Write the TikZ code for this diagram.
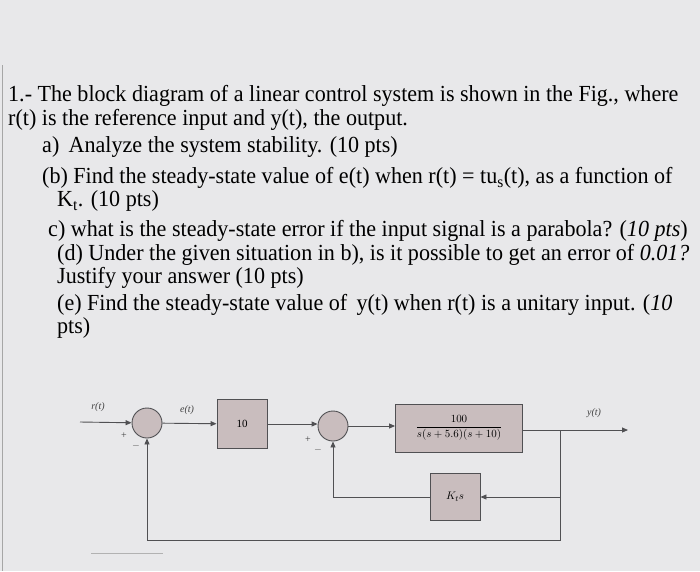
\documentclass[tikz,border=0pt]{standalone}
\usepackage{fontspec}
\setmainfont[FakeStretch=0.96]{Liberation Serif}
\newfontfamily\dfont{Liberation Serif}
\usetikzlibrary{arrows.meta}
\definecolor{bg}{HTML}{E8E8EA}
\definecolor{blk}{HTML}{C9BDBE}
\definecolor{ln}{HTML}{505053}
\begin{document}
\begin{tikzpicture}[x=1pt,y=-1pt,
  txt/.style={anchor=west,inner sep=0,font=\fontsize{23}{23}\selectfont,text=black},
  blockbox/.style={draw=ln,fill=blk,line width=0.9pt,font=\dfont\fontsize{11}{12}\selectfont\itshape,inner sep=0},
  sumc/.style={circle,draw=ln,fill=blk,line width=0.9pt,minimum size=30pt,inner sep=0},
  sig/.style={draw=ln,line width=0.9pt},
  arr/.style={sig,-{Triangle[length=6pt,width=5pt]}},
  lab/.style={font=\dfont\fontsize{10}{10}\selectfont\itshape,text=black!75,inner sep=0},
  pm/.style={font=\dfont\fontsize{10}{10}\selectfont,text=black!75,inner sep=0}]
\fill[bg] (0,0) rectangle (700,571);
\useasboundingbox (0,0) rectangle (700,571);
\draw[gray!70,line width=1pt] (2,65) -- (2,571);
\node[txt] (l1) at (8,96) {1.- The block diagram of a linear control system is shown in the Fig., where};
\node[txt] (l2) at (8,120) {r(t) is the reference input and y(t), the output.};
\node[txt] (l3) at (42,147) {a)\, Analyze the system stability. (10 pts)};
\node[txt] (l4) at (42,178) {(b) Find the steady-state value of e(t) when r(t) = tu\textsubscript{s}(t), as a function of};
\node[txt] (l5) at (57,201) {K\textsubscript{t}. (10 pts)};
\node[txt] (l6) at (48,231) {c) what is the steady-state error if the input signal is a parabola? (\textit{10 pts})};
\node[txt] (l7) at (57,255) {(d) Under the given situation in b), is it possible to get an error of \textit{0.01?}};
\node[txt] (l8) at (57,278) {Justify your answer (10 pts)};
\node[txt] (l9) at (57,305) {(e) Find the steady-state value of\, y(t) when r(t) is a unitary input. (\textit{10}};
\node[txt] (l10) at (57,328) {pts)};
% diagram
\coordinate (in) at (80,422);
\node[sumc] (s1) at (147,423) {};
\node[blockbox,minimum width=50pt,minimum height=49pt] (k10) at (242,424) {\upshape 10};
\node[sumc] (s2) at (333,426) {};
\node[blockbox,minimum width=127pt,minimum height=48pt] (g) at (459,428)
  {$\displaystyle\frac{100}{s(s+5.6)(s+10)}$};
\node[blockbox,minimum width=50pt,minimum height=47pt] (kt) at (455,497) {$K_t s$};
\coordinate (b1) at (560,430);
\coordinate (out) at (628,430);
\draw[arr] (in) -- (s1);
\draw[arr] (s1) -- (k10);
\draw[arr] (k10.east) -- (s2.west |- k10.east);
\draw[arr] (s2) -- (g.west |- s2);
\draw[arr] (g.east |- out) -- (out);
\draw[arr] (b1) |- (kt.east);
\draw[arr] (kt.west) -| (s2.south);
\draw[arr] (b1) |- (156,540) -| (s1.south);
\draw[gray!60,line width=1pt] (91,553) -- (163,553);
\node[lab] (rt) at (98,407) {r(t)};
\node[lab] (et) at (187,410) {e(t)};
\node[lab] (yt) at (594,413) {y(t)};
\node[pm] (p1) at (124,436) {+};
\node[pm] (m1) at (136,446) {$-$};
\node[pm] (p2) at (308,440) {+};
\node[pm] (m2) at (318,450) {$-$};
\end{tikzpicture}
\end{document}
